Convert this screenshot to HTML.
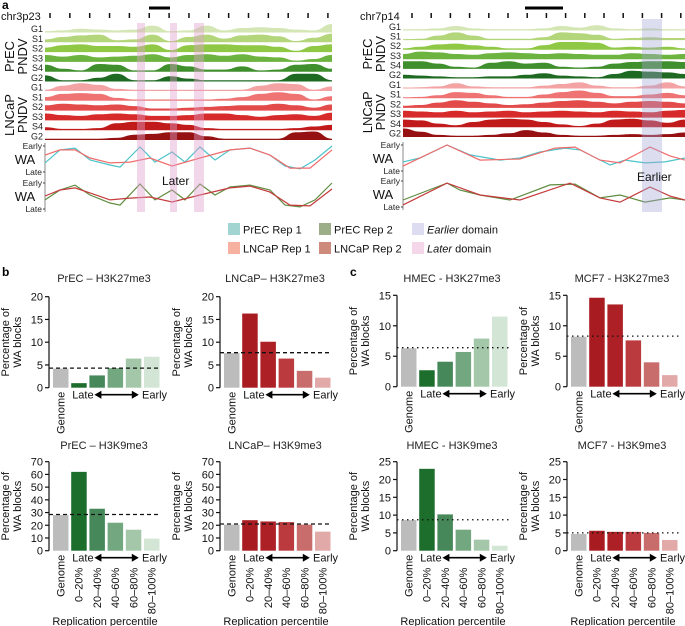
<!DOCTYPE html>
<html><head><meta charset="utf-8">
<style>
html,body{margin:0;padding:0;background:#fff;}
svg{display:block;font-family:"Liberation Sans",Arial,sans-serif;}
</style></head>
<body>
<svg id="fig" width="685" height="626" viewBox="0 0 685 626" xmlns="http://www.w3.org/2000/svg"></svg>
<script>
// ---------- Panel a data (track profiles, 17 bins across window) ----------
const leftPrEC_G1=[.1,.2,.4,.3,.2,.3,.8,.1,.2,.8,.2,.5,.6,.5,.3,.2,1];
const leftPrEC_S1=[.3,.6,.8,.9,.2,.3,.9,.1,.6,.9,.4,.8,.9,.7,.1,.5,1];
const leftPrEC_S2=[.5,.8,.9,.7,.7,.6,.9,.2,.8,.9,.9,.8,.8,.6,.1,.7,.9];
const leftPrEC_S3=[.8,.6,.8,.5,.6,.7,.9,.5,.8,.9,.7,.9,.6,.5,.1,.3,.8];
const leftPrEC_S4=[.8,.3,.1,.9,.8,.1,.1,.9,.6,.2,.2,.6,.1,.2,.8,.9,.3];
const leftPrEC_G2=[.7,.1,.1,.4,.9,.1,.1,.6,.3,.1,.1,.1,.1,.1,.9,.9,.1];
const leftLN_G1=[.1,.6,.9,.7,.2,.1,.1,.1,.1,.1,.1,.1,.6,.9,.8,.1,.5];
const leftLN_S1=[.4,.8,.9,.8,.3,.1,.1,.1,.1,.1,.2,.4,.8,1,.8,.1,.5];
const leftLN_S2=[.6,.8,.7,.6,.7,.5,.2,.2,.3,.4,.5,.6,.6,.8,.6,.3,.7];
const leftLN_S3=[.8,.6,.5,.7,.8,.7,.5,.5,.6,.8,.8,.6,.4,.6,.7,.5,.9];
const leftLN_S4=[.3,.1,.1,.2,.8,1,1,.8,.6,.2,.1,.1,.1,.1,.2,.4,.6];
const leftLN_G2=[.1,.1,.1,.1,.2,.6,.7,.9,.9,.4,.1,.1,.1,.1,.9,1,.1];
const rightPrEC_G1=[.1,.1,.2,.5,.2,.1,.1,.1,.2,.5,.3,.6,.2,.1,.2,.1,.1];
const rightPrEC_S1=[0,.1,.5,.9,.5,.1,.1,.1,.3,.9,.8,.6,.1,.2,.3,.2,.2];
const rightPrEC_S2=[.1,.3,.6,.7,.5,.3,.1,.1,.5,.9,.9,.8,.2,.3,.2,.3,.1];
const rightPrEC_S3=[.6,.9,.8,.6,.5,.7,.8,.7,.6,.7,.6,.5,.5,.7,.6,.5,.6];
const rightPrEC_S4=[.9,.9,.6,.2,.1,.7,.9,.6,.7,.2,.1,.2,.6,.8,.9,.9,.8];
const rightPrEC_G2=[.4,.3,.2,.1,.1,.2,.2,.4,.6,.3,.2,.1,.5,.9,.8,.7,.5];
const rightLN_G1=[0,.1,.2,.6,.2,.1,.1,.1,.3,.5,.7,.3,.1,.1,.3,.7,.2];
const rightLN_S1=[0,.1,.3,.7,.6,.3,.1,.1,.4,.7,.9,.6,.2,.2,.4,.6,.3];
const rightLN_S2=[.2,.3,.6,.9,.7,.5,.3,.4,.6,.8,.9,.7,.5,.7,.8,.7,.5];
const rightLN_S3=[.8,.7,.6,.8,.6,.7,.8,.6,.7,.8,.7,.6,.8,.7,.6,.8,.9];
const rightLN_S4=[.9,.8,.4,.2,.6,.9,1,.9,.6,.3,.1,.4,.9,1,.8,.5,.9];
const rightLN_G2=[1,.6,.2,.1,.1,.2,.4,.8,.5,.2,.1,.1,.2,.3,.2,.3,.5];

// WA profiles: positions (bins within window) and weighted average (0 late .. 100 early)
const leftWA1_tealPos=[0,15,30,45,65,75,95,110,127,140,155,170,185,205,225,240,255,270,287];
const leftWA1_tealVal=[35,85,92,46,27,19,96,38,77,38,96,46,85,92,65,23,12,46,100];
const leftWA1_redPos=[0,15,30,45,65,85,105,127,155,185,205,225,245,265,287];
const leftWA1_redVal=[65,85,85,54,35,38,54,23,54,85,92,65,15,15,85];
const leftWA2_greenVal=[35,73,92,54,23,15,96,35,73,35,96,54,85,92,73,15,8,35,100];
const leftWA2_redVal=[50,73,81,62,35,42,46,27,54,81,88,65,15,12,77];
const rightWA1_tealPos=[0,17,44,67,97,117,137,162,177,207,222,242,262,282];
const rightWA1_tealVal=[35,50,100,62,42,50,73,88,81,23,42,31,35,50];
const rightWA1_redPos=[0,44,77,117,152,172,197,217,247,267,282];
const rightWA1_redVal=[19,100,42,46,88,92,42,31,92,58,42];
const rightWA2_greenPos=[0,44,57,77,107,147,172,197,217,242,267,282];
const rightWA2_greenVal=[27,92,65,46,27,85,88,35,46,19,35,27];
const rightWA2_redPos=[0,44,77,117,167,197,217,247,267,282];
const rightWA2_redVal=[8,92,46,27,92,35,19,77,42,27];

// ---------- Bar chart data ----------
const barCategories=["Genome","0–20%","20–40%","40–60%","60–80%","80–100%"];
const precK27=[4.2,1.0,2.7,4.3,6.4,6.8];  const precK27Genome=4.3;
const lncapK27=[7.6,16.3,10.1,6.4,3.7,2.2]; const lncapK27Genome=7.7;
const hmecK27=[6.3,2.7,4.1,5.7,7.9,11.5]; const hmecK27Genome=6.4;
const mcf7K27=[8.2,14.6,13.5,7.6,4.0,1.9]; const mcf7K27Genome=8.3;
const precK9=[28,62,33,22,16.5,9.5]; const precK9Genome=28.5;
const lncapK9=[20.5,24,23,22.5,20.5,15]; const lncapK9Genome=21;
const hmecK9=[8.6,23,10.2,5.9,3.1,1.4]; const hmecK9Genome=8.7;
const mcf7K9=[4.7,5.6,5.3,5.3,5.0,3.0]; const mcf7K9Genome=5.0;
const ticks20=[0,5,10,15,20];
const ticks15=[0,5,10,15];
const ticks70=[0,10,20,30,40,50,60,70];
const ticks25=[0,5,10,15,20,25];

const NS="http://www.w3.org/2000/svg";
const svg=document.getElementById('fig');
function mk(tag,attrs,parent){const e=document.createElementNS(NS,tag);for(const k in attrs)e.setAttribute(k,attrs[k]);(parent||svg).appendChild(e);return e;}
function txt(s,attrs,parent){const e=mk('text',attrs,parent);e.textContent=s;return e;}

// ---------- panel a ----------
const greens=['#d3e6b3','#b3d67a','#8fc845','#6cb33f','#3f8f2c','#1f6a22'];
const reds=['#f3a3a3','#ef7373','#e34a4a','#d72a2a','#c11a1a','#961212'];
const rowNames=['G1','S1','S2','S3','S4','G2'];

function drawTrackPanel(cfg){
  const g=mk('g',{});
  
  
  const x0=cfg.x0,x1=cfg.x1;
  const xs=i=>x0+(x1-x0)*i/16;
  const all=[[cfg.prec,greens,cfg.precY,cfg.precStep,'prec'],[cfg.ln,reds,cfg.lnY,cfg.lnStep,'lncap']];
  all.forEach(([tracks,cols,y0,step,lab])=>{
    tracks.forEach((arr,r)=>{
      const by=y0+r*step;
      let d='M'+x0+','+by;
      const pts=arr.map((v,i)=>[xs(i),by-v*8]);
      d+=' L'+pts[0][0]+','+pts[0][1];
      for(let i=1;i<pts.length;i++){
        const mx=(pts[i-1][0]+pts[i][0])/2;
        d+=' C'+mx+','+pts[i-1][1]+' '+mx+','+pts[i][1]+' '+pts[i][0]+','+pts[i][1];
      }
      d+=' L'+x1+','+by+' Z';
      const p=mk('path',{d:d,fill:cols[r]},g);
      
      
      mk('line',{x1:x0,x2:x1,y1:by,y2:by,stroke:cols[r],'stroke-width':1},g);
      const t=txt(rowNames[r],{x:x0-2,y:by,'font-size':9,'text-anchor':'end',fill:'#222'},g);
      
      
    });
  });
  [['PrEC',cfg.precY+(cfg.precStep*5)/2],['LNCaP',cfg.lnY+(cfg.lnStep*5)/2]].forEach(([n,cy])=>{
    const t=mk('text',{transform:'translate('+(cfg.x0-31)+','+cy+') rotate(-90)','font-size':13,'text-anchor':'middle',fill:'#111'},g);
    
    
    const a=mk('tspan',{x:0,dy:0},t);a.textContent=n;
    const b=mk('tspan',{x:0,dy:13},t);b.textContent='PNDV';
  });
  const cl=txt(cfg.chr,{x:cfg.chrX,y:20,'font-size':11,fill:'#111'},g);
  
  
  for(let i=0;i<15;i++){
    const tx=cfg.tick0+i*cfg.tickStep;
    mk('line',{x1:tx,x2:tx,y1:13,y2:18,stroke:'#111','stroke-width':1.5},g);
  }
  const sb=mk('line',{x1:cfg.bar[0],x2:cfg.bar[1],y1:8,y2:8,stroke:'#000','stroke-width':3},g);
  
  
  mk('line',{x1:x0,x2:x0,y1:cfg.wa1[0]-3,y2:cfg.wa2[1]+3,stroke:'#888','stroke-width':1},g);
  [cfg.wa1,cfg.wa2].forEach((w,k)=>{
    txt('Early',{x:x0-3,y:w[0]+3,'font-size':8.5,'text-anchor':'end',fill:'#222'},g);
    txt('Late',{x:x0-3,y:w[1]+3,'font-size':8.5,'text-anchor':'end',fill:'#222'},g);
    mk('line',{x1:x0-2,x2:x0,y1:w[0],y2:w[0],stroke:'#444'},g);
    mk('line',{x1:x0-2,x2:x0,y1:w[1],y2:w[1],stroke:'#444'},g);
    const wt=txt('WA',{x:x0-20,y:(w[0]+w[1])/2+5,'font-size':13,'text-anchor':'middle',fill:'#111'},g);
    
    
  });
  const line=(pos,val,w,col,name)=>{
    const d=pos.map((p,i)=>(i?'L':'M')+(x0+p).toFixed(1)+','+(w[1]-(w[1]-w[0])*val[i]/100).toFixed(1)).join(' ');
    const l=mk('path',{d:d,fill:'none',stroke:col,'stroke-width':1.2},g);
    
    
  };
  cfg.lines.forEach(L=>line(L[0],L[1],L[2],L[3],L[4]));
  return g;
}

drawTrackPanel({name:'panel-a-chr3p23',chr:'chr3p23',chrX:1,x0:45,x1:332,precY:32,precStep:9.8,lnY:90.5,lnStep:9.8,
  prec:[leftPrEC_G1,leftPrEC_S1,leftPrEC_S2,leftPrEC_S3,leftPrEC_S4,leftPrEC_G2],
  ln:[leftLN_G1,leftLN_S1,leftLN_S2,leftLN_S3,leftLN_S4,leftLN_G2],
  tick0:50,tickStep:19.85,bar:[149,170],wa1:[146,172],wa2:[183,209],
  lines:[[leftWA1_tealPos,leftWA1_tealVal,[146,172],'#4cc3c9','prec-rep1-wa'],
         [leftWA1_redPos,leftWA1_redVal,[146,172],'#f06b6b','lncap-rep1-wa'],
         [leftWA1_tealPos,leftWA2_greenVal,[183,209],'#5f8c40','prec-rep2-wa'],
         [leftWA1_redPos,leftWA2_redVal,[183,209],'#c43a3c','lncap-rep2-wa']]});
drawTrackPanel({name:'panel-a-chr7p14',chr:'chr7p14',chrX:360,x0:403,x1:685,precY:30,precStep:9.6,lnY:88,lnStep:9.7,
  prec:[rightPrEC_G1,rightPrEC_S1,rightPrEC_S2,rightPrEC_S3,rightPrEC_S4,rightPrEC_G2],
  ln:[rightLN_G1,rightLN_S1,rightLN_S2,rightLN_S3,rightLN_S4,rightLN_G2],
  tick0:412,tickStep:19.2,bar:[525,563],wa1:[145,171],wa2:[181,207],
  lines:[[rightWA1_tealPos,rightWA1_tealVal,[145,171],'#4cc3c9','prec-rep1-wa'],
         [rightWA1_redPos,rightWA1_redVal,[145,171],'#f06b6b','lncap-rep1-wa'],
         [rightWA2_greenPos,rightWA2_greenVal,[181,207],'#5f8c40','prec-rep2-wa'],
         [rightWA2_redPos,rightWA2_redVal,[181,207],'#c43a3c','lncap-rep2-wa']]});

[[137,8],[170,7],[194,10]].forEach(b=>{
  const r=mk('rect',{x:b[0],y:23,width:b[1],height:189,fill:'rgba(225,160,205,0.42)'});
  
  
});
const eb=mk('rect',{x:642,y:19,width:20,height:193,fill:'rgba(165,165,215,0.38)'});


const lt=txt('Later',{x:162,y:185,'font-size':12,fill:'#111'});


const et=txt('Earlier',{x:637,y:181,'font-size':12,fill:'#111'});



const legendItems=[['PrEC Rep 1','#a2d4d2',228,223,''],['PrEC Rep 2','#9bae88',319,223,''],['Earlier','#dedcf0',412,223,' domain'],
 ['LNCaP Rep 1','#f7b1a0',228,242,''],['LNCaP Rep 2','#cc8b7b',319,242,''],['Later','#f5d7ea',412,242,' domain']];
legendItems.forEach(it=>{
  const g=mk('g',{});
  
  
  mk('rect',{x:it[2],y:it[3],width:12,height:12,fill:it[1]},g);
  const t=mk('text',{x:it[2]+15,y:it[3]+10.5,'font-size':11,fill:'#111'},g);
  if(it[4]){const a=mk('tspan',{'font-style':'italic'},t);a.textContent=it[0];const b=mk('tspan',{},t);b.textContent=it[4];}
  else t.textContent=it[0];
});

[['a',2,9],['b',2,276],['c',350,276]].forEach(l=>{
  const t=txt(l[0],{x:l[1],y:l[2],'font-size':12,'font-weight':'bold',fill:'#000'});
  
  
});

// ---------- bar charts ----------
function barChart(c){
  const g=mk('g',{});
  
  
  const yS=v=>c.y0-(c.y0-c.yTop)*v/c.max;
  const bx=i=>c.ax+4+i*18.2;
  const ttl=txt(c.title,{x:c.ax+55,y:c.titleY,'font-size':11,'text-anchor':'middle',fill:'#222'},g);
  
  
  c.ticks.forEach(t=>{
    mk('line',{x1:c.ax-4,x2:c.ax,y1:yS(t),y2:yS(t),stroke:'#111','stroke-width':1.2},g);
    txt(String(t),{x:c.ax-6,y:yS(t)+4,'font-size':11,'text-anchor':'end',fill:'#111'},g);
  });
  const axl=mk('line',{x1:c.ax,x2:c.ax,y1:c.yTop,y2:c.y0,stroke:'#111','stroke-width':1.2},g);
  
  
  const cy=(c.y0+c.yTop)/2;
  const yt=mk('text',{transform:'translate('+(c.ax-40)+','+cy+') rotate(-90)','font-size':11,'text-anchor':'middle',fill:'#111'},g);
  
  
  const s1=mk('tspan',{x:0,dy:0},yt);s1.textContent='Percentage of';
  const s2=mk('tspan',{x:0,dy:12},yt);s2.textContent='WA blocks';
  c.vals.forEach((v,i)=>{
    const r=mk('rect',{x:bx(i),y:yS(v),width:15.5,height:c.y0-yS(v),fill:c.colors[i]},g);
    
    
  });
  const rl=mk('line',{x1:c.ax,x2:bx(5)+17,y1:yS(c.ref),y2:yS(c.ref),stroke:'#111','stroke-width':1.3,'stroke-dasharray':c.dotted?'1.5,3.5':'4,3'},g);
  
  
  const ly=c.y0+11;
  txt('Late',{x:bx(1)+1,y:ly,'font-size':11,fill:'#111'},g);
  txt('Early',{x:bx(5)-2,y:ly,'font-size':11,fill:'#111'},g);
  const ar=mk('g',{},g);
  
  
  const a0=bx(2)+5,a1=bx(4)+13;
  mk('line',{x1:a0+4,x2:a1-4,y1:ly-4,y2:ly-4,stroke:'#000','stroke-width':1.6},ar);
  mk('path',{d:'M'+a0+','+(ly-4)+' l7,-4 v8 z',fill:'#000'},ar);
  mk('path',{d:'M'+a1+','+(ly-4)+' l-7,-4 v8 z',fill:'#000'},ar);
  const gl=mk('text',{transform:'translate('+(bx(0)+11.5)+','+(c.y0+4)+') rotate(-90)','font-size':11,'text-anchor':'end',fill:'#111'},g);
  gl.textContent='Genome';
  
  
  if(c.full){
    for(let i=1;i<6;i++){
      const t=mk('text',{transform:'translate('+(bx(i)+11.5)+','+(c.y0+17)+') rotate(-90)','font-size':11,'text-anchor':'end',fill:'#111'},g);
      t.textContent=barCategories[i];
      
      
    }
    const xt=txt('Replication percentile',{x:c.ax+56,y:625,'font-size':11,'text-anchor':'middle',fill:'#111'},g);
    
    
  }
}
const greenCols=['#bcbcbc','#1d6d2d','#47885a','#72a780','#a4c7a9','#d3e5d5'];
const redCols=['#bcbcbc','#a81c21','#ad2126','#bb3a3e','#c96c6c','#e2a9a9'];
const top_b={y0:387.7,yTop:296.7,titleY:282};
const top_c={y0:386.7,yTop:295.3,titleY:282};
const bot={y0:550.7,yTop:461.7,titleY:449};
barChart({name:'prec-h3k27me3-chart',title:'PrEC – H3K27me3',ax:49,...top_b,max:20,ticks:ticks20,vals:precK27,ref:precK27Genome,colors:greenCols,dotted:false,full:false});
barChart({name:'lncap-h3k27me3-chart',title:'LNCaP– H3K27me3',ax:220,...top_b,max:20,ticks:ticks20,vals:lncapK27,ref:lncapK27Genome,colors:redCols,dotted:false,full:false});
barChart({name:'hmec-h3k27me3-chart',title:'HMEC - H3K27me3',ax:397,...top_c,max:15,ticks:ticks15,vals:hmecK27,ref:hmecK27Genome,colors:greenCols,dotted:true,full:false});
barChart({name:'mcf7-h3k27me3-chart',title:'MCF7 - H3K27me3',ax:567,...top_c,max:15,ticks:ticks15,vals:mcf7K27,ref:mcf7K27Genome,colors:redCols,dotted:true,full:false});
barChart({name:'prec-h3k9me3-chart',title:'PrEC – H3K9me3',ax:49,...bot,max:70,ticks:ticks70,vals:precK9,ref:precK9Genome,colors:greenCols,dotted:false,full:true});
barChart({name:'lncap-h3k9me3-chart',title:'LNCaP– H3K9me3',ax:220,...bot,max:70,ticks:ticks70,vals:lncapK9,ref:lncapK9Genome,colors:redCols,dotted:false,full:true});
barChart({name:'hmec-h3k9me3-chart',title:'HMEC - H3K9me3',ax:397,...bot,max:25,ticks:ticks25,vals:hmecK9,ref:hmecK9Genome,colors:greenCols,dotted:true,full:true});
barChart({name:'mcf7-h3k9me3-chart',title:'MCF7 - H3K9me3',ax:567,...bot,max:25,ticks:ticks25,vals:mcf7K9,ref:mcf7K9Genome,colors:redCols,dotted:true,full:true});
</script>
</body></html>
